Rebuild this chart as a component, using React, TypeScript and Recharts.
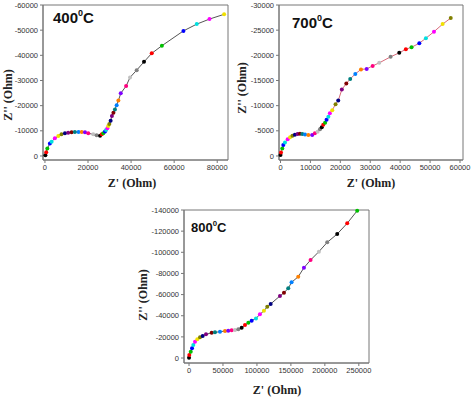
import { LineChart, Line, XAxis, YAxis, ReferenceArea } from 'recharts';

// Origin-like colour cycle for the data points
const pointColors = [
  '#000000', '#ff0000', '#00c000', '#0000ff', '#00e0e0', '#ff00ff', '#f0e000',
  '#808000', '#000080', '#800080', '#800000', '#008080', '#0080ff', '#ff8000',
  '#8000ff', '#ff0080', '#c0c0c0', '#808080'
];

// 400 °C
const zReal400 = [200, 600, 1100, 2300, 3100, 4600, 6200, 7700, 9300, 10800, 12400, 13900, 15600, 17100, 18600, 20100, 22400, 24000, 25600, 26400, 27100, 27900, 28400, 29000, 29400, 29900, 30500, 31100, 31800, 32500, 33300, 34100, 35200, 37700, 39500, 42600, 46000, 49600, 54300, 64300, 70500, 76400, 83200];
const zImag400 = [-300, -1500, -3000, -5000, -5700, -7000, -7900, -8600, -9000, -9250, -9400, -9500, -9550, -9500, -9400, -9000, -8600, -8200, -8000, -8600, -9000, -9700, -10300, -11000, -11900, -12700, -14000, -15900, -17200, -18500, -20200, -22000, -24900, -27800, -31200, -34100, -37400, -40800, -43800, -49700, -52400, -54400, -56300];

// 700 °C
const zReal700 = [0, 170, 600, 940, 1500, 2400, 3200, 4000, 4800, 5700, 6500, 7300, 8200, 9300, 10600, 11500, 12400, 13200, 13800, 14300, 14900, 15400, 16000, 16500, 17300, 18400, 19300, 20500, 22000, 23300, 25000, 26900, 28800, 30800, 33000, 36800, 39700, 41900, 43800, 46400, 48600, 51300, 54200, 56900];
const zImag700 = [-200, -700, -1500, -2200, -2700, -3300, -3700, -4000, -4200, -4350, -4400, -4350, -4250, -4150, -4150, -4500, -4800, -5300, -5700, -6200, -6600, -7200, -7800, -8500, -9100, -10300, -11000, -13200, -14400, -15300, -16300, -17200, -17300, -17900, -18500, -19700, -20500, -21200, -21600, -22400, -23400, -24700, -26200, -27400];

// 800 °C
const zReal800 = [0, 400, 2500, 4400, 6300, 8800, 12200, 16200, 20100, 25000, 33400, 38200, 45600, 53000, 57800, 62800, 67700, 72600, 77500, 82400, 87300, 92200, 98600, 104400, 110300, 115200, 120200, 133900, 139800, 146100, 151000, 160800, 169200, 179000, 191200, 203500, 218200, 232900, 247600];
const zImag800 = [-300, -2800, -6000, -9200, -12300, -15400, -17700, -19600, -20800, -22400, -23900, -24300, -24900, -25500, -25800, -26200, -26500, -27200, -28700, -31200, -33400, -35300, -37500, -41300, -44700, -48500, -51100, -58700, -61800, -65900, -71600, -76900, -85400, -92700, -100600, -109400, -117300, -127400, -139300];

const xTicks400 = [0, 20000, 40000, 60000, 80000];
const xMinor400 = [10000, 30000, 50000, 70000];
const yTicks400 = [-60000, -50000, -40000, -30000, -20000, -10000, 0];
const xTicks700 = [0, 10000, 20000, 30000, 40000, 50000, 60000];
const xMinor700 = [5000, 15000, 25000, 35000, 45000, 55000];
const yTicks700 = [-30000, -25000, -20000, -15000, -10000, -5000, 0];
const xTicks800 = [0, 50000, 100000, 150000, 200000, 250000];
const xMinor800 = [25000, 75000, 125000, 175000, 225000];
const yTicks800 = [-140000, -120000, -100000, -80000, -60000, -40000, -20000, 0];

const axisColor = '#777';
const tickStyle = { fontSize: 7.5, fill: '#333', fontFamily: 'Liberation Sans, Arial, sans-serif' };

interface PanelProps {
  re: number[];
  im: number[];
  xTicks: number[];
  xMinor: number[];
  yTicks: number[];
  xDomain: [number, number];
  yDomain: [number, number];
  width: number;
  height: number;
  margin: { top: number; right: number; bottom: number; left: number };
  yAxisWidth: number;
  lineColor: string;
}

function Panel({ re, im, xTicks, xMinor, yTicks, xDomain, yDomain, width, height, margin, yAxisWidth, lineColor }: PanelProps) {
  const data = re.map((x, i) => ({ x, y: im[i] }));
  const renderDot = (props: any) => {
    const { cx, cy, index } = props;
    return <circle key={`dot-${index}`} cx={cx} cy={cy} r={2} fill={pointColors[index % pointColors.length]} />;
  };
  return (
    <LineChart width={width} height={height} data={data} margin={margin}>
      {/* minor ticks only, no labels */}
      <XAxis
        xAxisId="minor"
        type="number"
        domain={xDomain}
        ticks={xMinor}
        height={0}
        axisLine={false}
        tick={false}
        tickSize={2}
        stroke={axisColor}
        interval={0}
      />
      <XAxis
        dataKey="x"
        type="number"
        domain={xDomain}
        ticks={xTicks}
        height={35}
        stroke={axisColor}
        tickSize={3}
        tick={tickStyle}
        interval={0}
      />
      <YAxis
        dataKey="y"
        type="number"
        domain={yDomain}
        ticks={yTicks}
        reversed
        width={yAxisWidth}
        stroke={axisColor}
        tickSize={3}
        tick={tickStyle}
        interval={0}
      />
      <ReferenceArea
        x1={xDomain[0]}
        x2={xDomain[1]}
        y1={yDomain[0]}
        y2={yDomain[1]}
        fill="none"
        stroke={axisColor}
        strokeWidth={1}
        ifOverflow="visible"
      />
      <Line
        dataKey="y"
        stroke={lineColor}
        strokeWidth={1}
        dot={renderDot}
        activeDot={false}
        isAnimationActive={false}
      />
    </LineChart>
  );
}

const titleFont = 'Liberation Serif, Times New Roman, serif';
const labelFont = 'Liberation Sans, Arial, sans-serif';

function AxisTitle({ text, x, y, rotate }: { text: string; x: number; y: number; rotate?: boolean }) {
  return (
    <div
      style={{
        position: 'absolute',
        left: x,
        top: y,
        transform: `translate(-50%, -50%)${rotate ? ' rotate(-90deg)' : ''}`,
        fontFamily: titleFont,
        fontWeight: 'bold',
        fontSize: 12,
        whiteSpace: 'nowrap',
        color: '#222'
      }}
    >
      {text}
    </div>
  );
}

function TempLabel({ temp, x, y, size }: { temp: string; x: number; y: number; size: number }) {
  return (
    <div
      style={{
        position: 'absolute',
        left: x,
        top: y,
        fontFamily: labelFont,
        fontWeight: 'bold',
        fontSize: size,
        lineHeight: 1,
        whiteSpace: 'nowrap',
        color: '#111'
      }}
    >
      {temp}
      <span style={{ fontSize: size * 0.6, position: 'relative', top: -size * 0.45 }}>0</span>
      C
    </div>
  );
}

export default function App() {
  return (
    <div style={{ position: 'absolute', left: 0, top: 0, width: 474, height: 398, background: '#fff' }}>
      <div style={{ position: 'absolute', left: 0, top: 0 }}>
        <Panel
          re={zReal400}
          im={zImag400}
          xTicks={xTicks400}
          xMinor={xMinor400}
          yTicks={yTicks400}
          xDomain={[-900, 85000]}
          yDomain={[-60000, 1600]}
          width={237}
          height={195}
          margin={{ top: 5, right: 9, bottom: 0, left: 8 }}
          yAxisWidth={35}
          lineColor="#555"
        />
      </div>
      <div style={{ position: 'absolute', left: 237, top: 0 }}>
        <Panel
          re={zReal700}
          im={zImag700}
          xTicks={xTicks700}
          xMinor={xMinor700}
          yTicks={yTicks700}
          xDomain={[-500, 61000]}
          yDomain={[-30000, 800]}
          width={237}
          height={195}
          margin={{ top: 5, right: 11, bottom: 0, left: 7 }}
          yAxisWidth={35}
          lineColor="#d86a7a"
        />
      </div>
      <div style={{ position: 'absolute', left: 120, top: 195 }}>
        <Panel
          re={zReal800}
          im={zImag800}
          xTicks={xTicks800}
          xMinor={xMinor800}
          yTicks={yTicks800}
          xDomain={[-7400, 265000]}
          yDomain={[-140000, 4700]}
          width={260}
          height={203}
          margin={{ top: 15, right: 11, bottom: 0, left: 24 }}
          yAxisWidth={40}
          lineColor="#555"
        />
      </div>

      <TempLabel temp="400" x={53} y={10} size={15} />
      <TempLabel temp="700" x={292} y={15} size={15} />
      <TempLabel temp="800" x={191} y={221} size={13} />

      <AxisTitle text="Z' (Ohm)" x={132} y={183} />
      <AxisTitle text="Z' (Ohm)" x={371} y={183} />
      <AxisTitle text="Z' (Ohm)" x={277} y={390} />
      <AxisTitle text="Z'' (Ohm)" x={8} y={95} rotate />
      <AxisTitle text="Z'' (Ohm)" x={242} y={88} rotate />
      <AxisTitle text="Z'' (Ohm)" x={143} y={295} rotate />
    </div>
  );
}
